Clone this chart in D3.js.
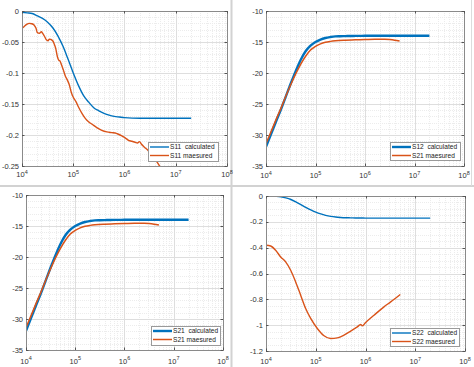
<!DOCTYPE html>
<html>
<head>
<meta charset="utf-8">
<script src="https://cdn.jsdelivr.net/npm/d3@7"></script>
<style>
  body { margin: 0; background: #fff; }
  svg { display: block; font-family: "Liberation Sans", Arial, sans-serif; }
</style>
</head>
<body>
<script>
// frequency grid of the calculated curves (Hz)
const calcFreq = [1e4, 1.26e4, 1.58e4, 2e4, 2.51e4, 3.16e4, 3.98e4, 5.01e4, 6.31e4, 7.94e4,
  1e5, 1.26e5, 1.58e5, 2e5, 2.51e5, 3.16e5, 3.98e5, 5.01e5, 6.31e5, 7.94e5,
  1e6, 2e6, 5e6, 1e7, 2e7];
const s11Calc = [-0.002, -0.003, -0.004, -0.008, -0.012, -0.018, -0.027, -0.040, -0.057, -0.078,
  -0.100, -0.120, -0.136, -0.147, -0.156, -0.161, -0.165, -0.168, -0.170, -0.171,
  -0.172, -0.173, -0.173, -0.173, -0.173];
const s21Calc = [-31.9, -29.9, -27.9, -25.9, -23.8, -21.7, -19.7, -17.9, -16.5, -15.6,
  -15.0, -14.6, -14.35, -14.2, -14.1, -14.07, -14.05, -14.03, -14.02, -14.01,
  -14.0, -14.0, -14.0, -14.0, -14.0];
const s22Calc = [0, -0.001, -0.003, -0.007, -0.015, -0.027, -0.045, -0.066, -0.088, -0.108,
  -0.125, -0.139, -0.150, -0.158, -0.163, -0.166, -0.168, -0.169, -0.170, -0.170,
  -0.171, -0.171, -0.171, -0.171, -0.171];

// measured S11 (noisy)
const s11MeasFreq = [10000, 10940, 12340, 13900, 15450, 17170, 18790, 19960, 21840, 23890,
  25360, 27740, 29450, 32220, 34200, 36310, 39720, 42170, 45480, 49060,
  52080, 55300, 58710, 64240, 70280, 76900, 84130, 92040, 100700, 113600,
  128000, 148800, 173000, 201000, 233500, 287700, 360400, 451600, 565000, 657400,
  763600, 887300, 1031000, 1198000, 1391000, 1616000, 1795000, 1963000, 2148000, 2421000,
  2943000, 3578000, 4285000, 4975000];
const s11Meas = [-0.0280, -0.0253, -0.0216, -0.0199, -0.0205, -0.0226, -0.0280, -0.0350, -0.0361, -0.0334,
  -0.0361, -0.0415, -0.0458, -0.0480, -0.0453, -0.0458, -0.0480, -0.0523, -0.0603, -0.0738,
  -0.0792, -0.0808, -0.0862, -0.0954, -0.1051, -0.1115, -0.1196, -0.1320, -0.1395, -0.1466,
  -0.1557, -0.1654, -0.1735, -0.1789, -0.1827, -0.1880, -0.1924, -0.1950, -0.1961, -0.1967,
  -0.1988, -0.2015, -0.2047, -0.2085, -0.2101, -0.2117, -0.2128, -0.2107, -0.2150, -0.2193,
  -0.2258, -0.2344, -0.2435, -0.2516];

// measured S21
const s21MeasFreq = [1e4, 1.26e4, 1.58e4, 2e4, 2.51e4, 3.16e4, 3.98e4, 5.01e4, 6.31e4, 7.94e4,
  1e5, 1.26e5, 1.58e5, 2e5, 2.51e5, 3.98e5, 6.31e5, 1e6, 1.58e6, 2.51e6, 3.16e6, 3.98e6, 5e6];
const s21Meas = [-31.4, -29.5, -27.6, -25.7, -23.75, -21.9, -20.15, -18.6, -17.3, -16.3,
  -15.7, -15.3, -15.05, -14.9, -14.8, -14.7, -14.65, -14.6, -14.55, -14.55, -14.6, -14.7, -14.85];

// measured S22
const s22MeasFreq = [10000, 12420, 15630, 19720, 24830, 31330, 39450, 49770, 62660, 79070,
  107600, 146600, 199500, 271600, 369800, 503500, 685500, 799800, 863000, 1007000,
  1483000, 2355000, 3206000, 5000000];
const s22Meas = [-0.381, -0.387, -0.420, -0.472, -0.510, -0.575, -0.665, -0.768, -0.871, -0.948,
  -1.026, -1.082, -1.103, -1.098, -1.077, -1.046, -1.013, -0.995, -1.005, -0.979,
  -0.923, -0.858, -0.820, -0.762];

const xTicks = [1e4, 1e5, 1e6, 1e7, 1e8];
const xTickExp = ["4", "5", "6", "7", "8"];
const sTicksDb = [-35, -30, -25, -20, -15, -10];
const s11Ticks = [-0.25, -0.2, -0.15, -0.1, -0.05, 0];
const s22Ticks = [-1.2, -1, -0.8, -0.6, -0.4, -0.2, 0];

const blue = "#0072BD", orange = "#D95319";
const W = 474, H = 367;

let svg = d3.select("body").append("svg")
  .attr("width", W)
  .attr("height", H);

const panels = [
  {box: [22, 11, 227, 166], yDomain: [-0.25, 0], yTicks: s11Ticks, yMinor: 0.01, xLabelDy: 11,
    series: [{f: calcFreq, v: s11Calc, c: blue, w: 1.4}, {f: s11MeasFreq, v: s11Meas, c: orange, w: 1.4}],
    legend: {x: 148, y: 142, w: 70, h: 19, labels: ["S11  calculated", "S11 maesured"], widths: [1.4, 1.4]}},
  {box: [266, 11, 464, 166], yDomain: [-35, -10], yTicks: sTicksDb, yMinor: 1, xLabelDy: 12,
    series: [{f: calcFreq, v: s21Calc, c: blue, w: 2.4}, {f: s21MeasFreq, v: s21Meas, c: orange, w: 1.5}],
    legend: {x: 390, y: 142, w: 70, h: 18, labels: ["S12  calculated", "S21 maesured"], widths: [2.4, 1.5]}},
  {box: [26, 195, 223, 350], yDomain: [-35, -10], yTicks: sTicksDb, yMinor: 1, xLabelDy: 13.5,
    series: [{f: calcFreq, v: s21Calc, c: blue, w: 2.4}, {f: s21MeasFreq, v: s21Meas, c: orange, w: 1.5}],
    legend: {x: 151, y: 326, w: 69, h: 19, labels: ["S21  calculated", "S21 maesured"], widths: [2.4, 1.5]}},
  {box: [266, 196, 465, 351], yDomain: [-1.2, 0], yTicks: s22Ticks, yMinor: 0.05, xLabelDy: 13,
    series: [{f: calcFreq, v: s22Calc, c: blue, w: 1.4}, {f: s22MeasFreq, v: s22Meas, c: orange, w: 1.4}],
    legend: {x: 390, y: 328, w: 69, h: 18, labels: ["S22  calculated", "S22 maesured"], widths: [1.4, 1.4]}}
];

// panel separators of the composite image
svg.append("line").attr("x1", 231.5).attr("x2", 231.5).attr("y1", 0).attr("y2", H)
  .attr("stroke", "#d2d2d2").attr("stroke-width", 2);
svg.append("line").attr("x1", 0).attr("x2", W).attr("y1", 186).attr("y2", 186)
  .attr("stroke", "#d2d2d2").attr("stroke-width", 2);
svg.append("line").attr("x1", 471.5).attr("x2", 471.5).attr("y1", 0).attr("y2", 186)
  .attr("stroke", "#dcdcdc").attr("stroke-width", 1);

panels.forEach(function (p, i) {
  const [l, t, r, b] = p.box;
  let x = d3.scaleLog().domain([1e4, 1e8]).range([l, r]);
  let y = d3.scaleLinear().domain(p.yDomain).range([b, t]);
  let g = svg.append("g");

  // minor grid
  let minorX = [];
  for (let k = 4; k < 8; k++) for (let m = 2; m < 10; m++) minorX.push(m * Math.pow(10, k));
  let minorY = d3.range(p.yDomain[0], p.yDomain[1] + 1e-9, p.yMinor);
  g.selectAll(".mx").data(minorX).enter().append("line")
    .attr("x1", d => Math.round(x(d)) + 0.5).attr("x2", d => Math.round(x(d)) + 0.5)
    .attr("y1", t).attr("y2", b)
    .attr("stroke", "#ececec").attr("stroke-width", 1).attr("stroke-dasharray", "1,1");
  g.selectAll(".my").data(minorY).enter().append("line")
    .attr("x1", l).attr("x2", r)
    .attr("y1", d => Math.round(y(d)) + 0.5).attr("y2", d => Math.round(y(d)) + 0.5)
    .attr("stroke", "#ececec").attr("stroke-width", 1).attr("stroke-dasharray", "1,1");
  // major grid
  g.selectAll(".gx").data(xTicks).enter().append("line")
    .attr("x1", d => Math.round(x(d)) + 0.5).attr("x2", d => Math.round(x(d)) + 0.5)
    .attr("y1", t).attr("y2", b).attr("stroke", "#dedede");
  g.selectAll(".gy").data(p.yTicks).enter().append("line")
    .attr("x1", l).attr("x2", r)
    .attr("y1", d => Math.round(y(d)) + 0.5).attr("y2", d => Math.round(y(d)) + 0.5)
    .attr("stroke", "#dedede");

  // data lines
  let clipId = "clip" + i;
  svg.append("clipPath").attr("id", clipId).append("rect")
    .attr("x", l).attr("y", t).attr("width", r - l).attr("height", b - t);
  p.series.forEach(function (s) {
    let pts = s.f.map((f, j) => [f, s.v[j]]);
    g.append("path")
      .datum(pts)
      .attr("clip-path", `url(#${clipId})`)
      .attr("fill", "none")
      .attr("stroke", s.c)
      .attr("stroke-width", s.w)
      .attr("stroke-linejoin", "round")
      .attr("d", d3.line().x(d => x(d[0])).y(d => y(d[1])).curve(d3.curveMonotoneX));
  });

  // box
  g.append("rect")
    .attr("x", l + 0.5).attr("y", t + 0.5).attr("width", r - l).attr("height", b - t)
    .attr("fill", "none").attr("stroke", "#8a8a8a");

  // ticks (inward, mirrored)
  g.selectAll(".tx").data(xTicks).enter().append("path")
    .attr("d", d => `M${Math.round(x(d)) + 0.5},${b}v-2.5M${Math.round(x(d)) + 0.5},${t}v2.5`)
    .attr("stroke", "#555");
  g.selectAll(".ty").data(p.yTicks).enter().append("path")
    .attr("d", d => `M${l},${Math.round(y(d)) + 0.5}h2.5M${r},${Math.round(y(d)) + 0.5}h-2.5`)
    .attr("stroke", "#555");

  // y tick labels
  g.selectAll(".ly").data(p.yTicks).enter().append("text")
    .attr("x", l - 3)
    .attr("y", d => y(d))
    .attr("dy", "0.35em")
    .attr("text-anchor", "end")
    .attr("font-size", 7.5)
    .attr("fill", "#333")
    .text(d => String(d));

  // x tick labels 10^k
  let lx = g.selectAll(".lx").data(xTicks).enter().append("text")
    .attr("x", d => x(d))
    .attr("y", b + p.xLabelDy)
    .attr("text-anchor", "middle")
    .attr("font-size", 7.5)
    .attr("fill", "#333");
  lx.append("tspan").text("10");
  lx.append("tspan").attr("dy", -3.5).attr("font-size", 5.5).text((d, j) => xTickExp[j]);

  // legend
  let lg = p.legend;
  g.append("rect")
    .attr("x", lg.x + 0.5).attr("y", lg.y + 0.5).attr("width", lg.w).attr("height", lg.h)
    .attr("fill", "#fff").attr("stroke", "#9a9a9a");
  lg.labels.forEach(function (lab, j) {
    let cy = lg.y + 5 + j * 8.5;
    g.append("line")
      .attr("x1", lg.x + 2).attr("x2", lg.x + 21)
      .attr("y1", cy).attr("y2", cy)
      .attr("stroke", p.series[j].c).attr("stroke-width", lg.widths[j]);
    g.append("text")
      .attr("x", lg.x + 22).attr("y", cy)
      .attr("dy", "0.35em")
      .attr("font-size", 6.6)
      .attr("fill", "#222")
      .attr("xml:space", "preserve")
      .style("white-space", "pre")
      .text(lab);
  });
});
</script>
</body>
</html>
